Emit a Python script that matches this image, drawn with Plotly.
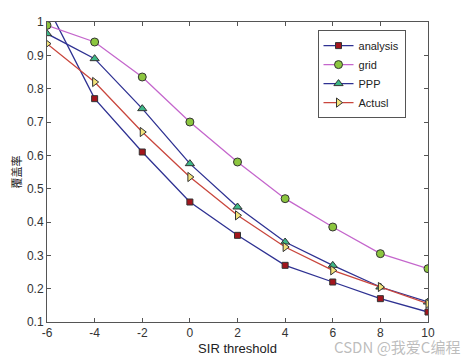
import plotly.graph_objects as go

sir = [-6, -4, -2, 0, 2, 4, 6, 8, 10]
analysis = [1.05, 0.77, 0.61, 0.46, 0.36, 0.27, 0.22, 0.17, 0.13]
grid = [0.99, 0.94, 0.835, 0.70, 0.58, 0.47, 0.385, 0.305, 0.26]
ppp = [0.965, 0.89, 0.74, 0.575, 0.445, 0.34, 0.27, 0.205, 0.16]
actusl = [0.935, 0.82, 0.67, 0.535, 0.42, 0.325, 0.255, 0.205, 0.155]
x_ticks = [-6, -4, -2, 0, 2, 4, 6, 8, 10]
y_ticks = [0.1, 0.2, 0.3, 0.4, 0.5, 0.6, 0.7, 0.8, 0.9, 1]
y_tick_text = ["0.1", "0.2", "0.3", "0.4", "0.5", "0.6", "0.7", "0.8", "0.9", "1"]

fig = go.Figure()
series = [
    ("analysis", analysis, "#2E3192", "#A3151D", "square", 6),
    ("grid", grid, "#C466CC", "#8CC63F", "circle", 8),
    ("PPP", ppp, "#2E3192", "#3DB887", "triangle-up", 8),
    ("Actusl", actusl, "#C9463D", "#F2E27A", "triangle-right", 8),
]
for name, ys, lc, fc, sym, sz in series:
    fig.add_trace(go.Scatter(
        x=sir, y=ys, name=name, mode="lines+markers",
        line=dict(color=lc, width=1.3),
        marker=dict(symbol=sym, size=sz, color=fc, line=dict(color="#333333", width=1)),
        cliponaxis=True,
    ))

axis_common = dict(
    showgrid=False, zeroline=False, showline=True, linecolor="#555555", linewidth=1,
    mirror="ticks", ticks="inside", ticklen=4, tickcolor="#555555",
    tickfont=dict(family="Liberation Sans, Arial", size=12, color="#333333"),
    automargin=False,
)
fig.update_xaxes(range=[-6, 10], tickvals=x_ticks, ticktext=[str(v) for v in x_ticks],
                 title=dict(text="SIR threshold", font=dict(family="Liberation Sans, Arial", size=13, color="#222222"), standoff=4),
                 **axis_common)
fig.update_yaxes(range=[0.1, 1], tickvals=y_ticks, ticktext=y_tick_text,
                 title=dict(text="覆盖率", font=dict(family="Noto Sans CJK SC", size=11, color="#222222"), standoff=4),
                 **axis_common)

fig.add_annotation(x=1.09, y=-0.08, xref="paper", yref="paper", xanchor="right", yanchor="middle",
                   text="CSDN @我爱C编程", showarrow=False,
                   font=dict(family="Noto Sans CJK SC", size=15, color="rgba(160,160,160,0.7)"))

fig.update_layout(
    width=474, height=360,
    margin=dict(l=39, r=54, t=14, b=46),
    paper_bgcolor="white", plot_bgcolor="white",
    showlegend=True,
    legend=dict(x=0.71, y=0.973, xanchor="left", yanchor="top",
                bordercolor="#555555", borderwidth=1, bgcolor="white",
                font=dict(family="Liberation Sans, Arial", size=11, color="#222222"),
                tracegroupgap=0),
)
fig.write_html("out.html")
